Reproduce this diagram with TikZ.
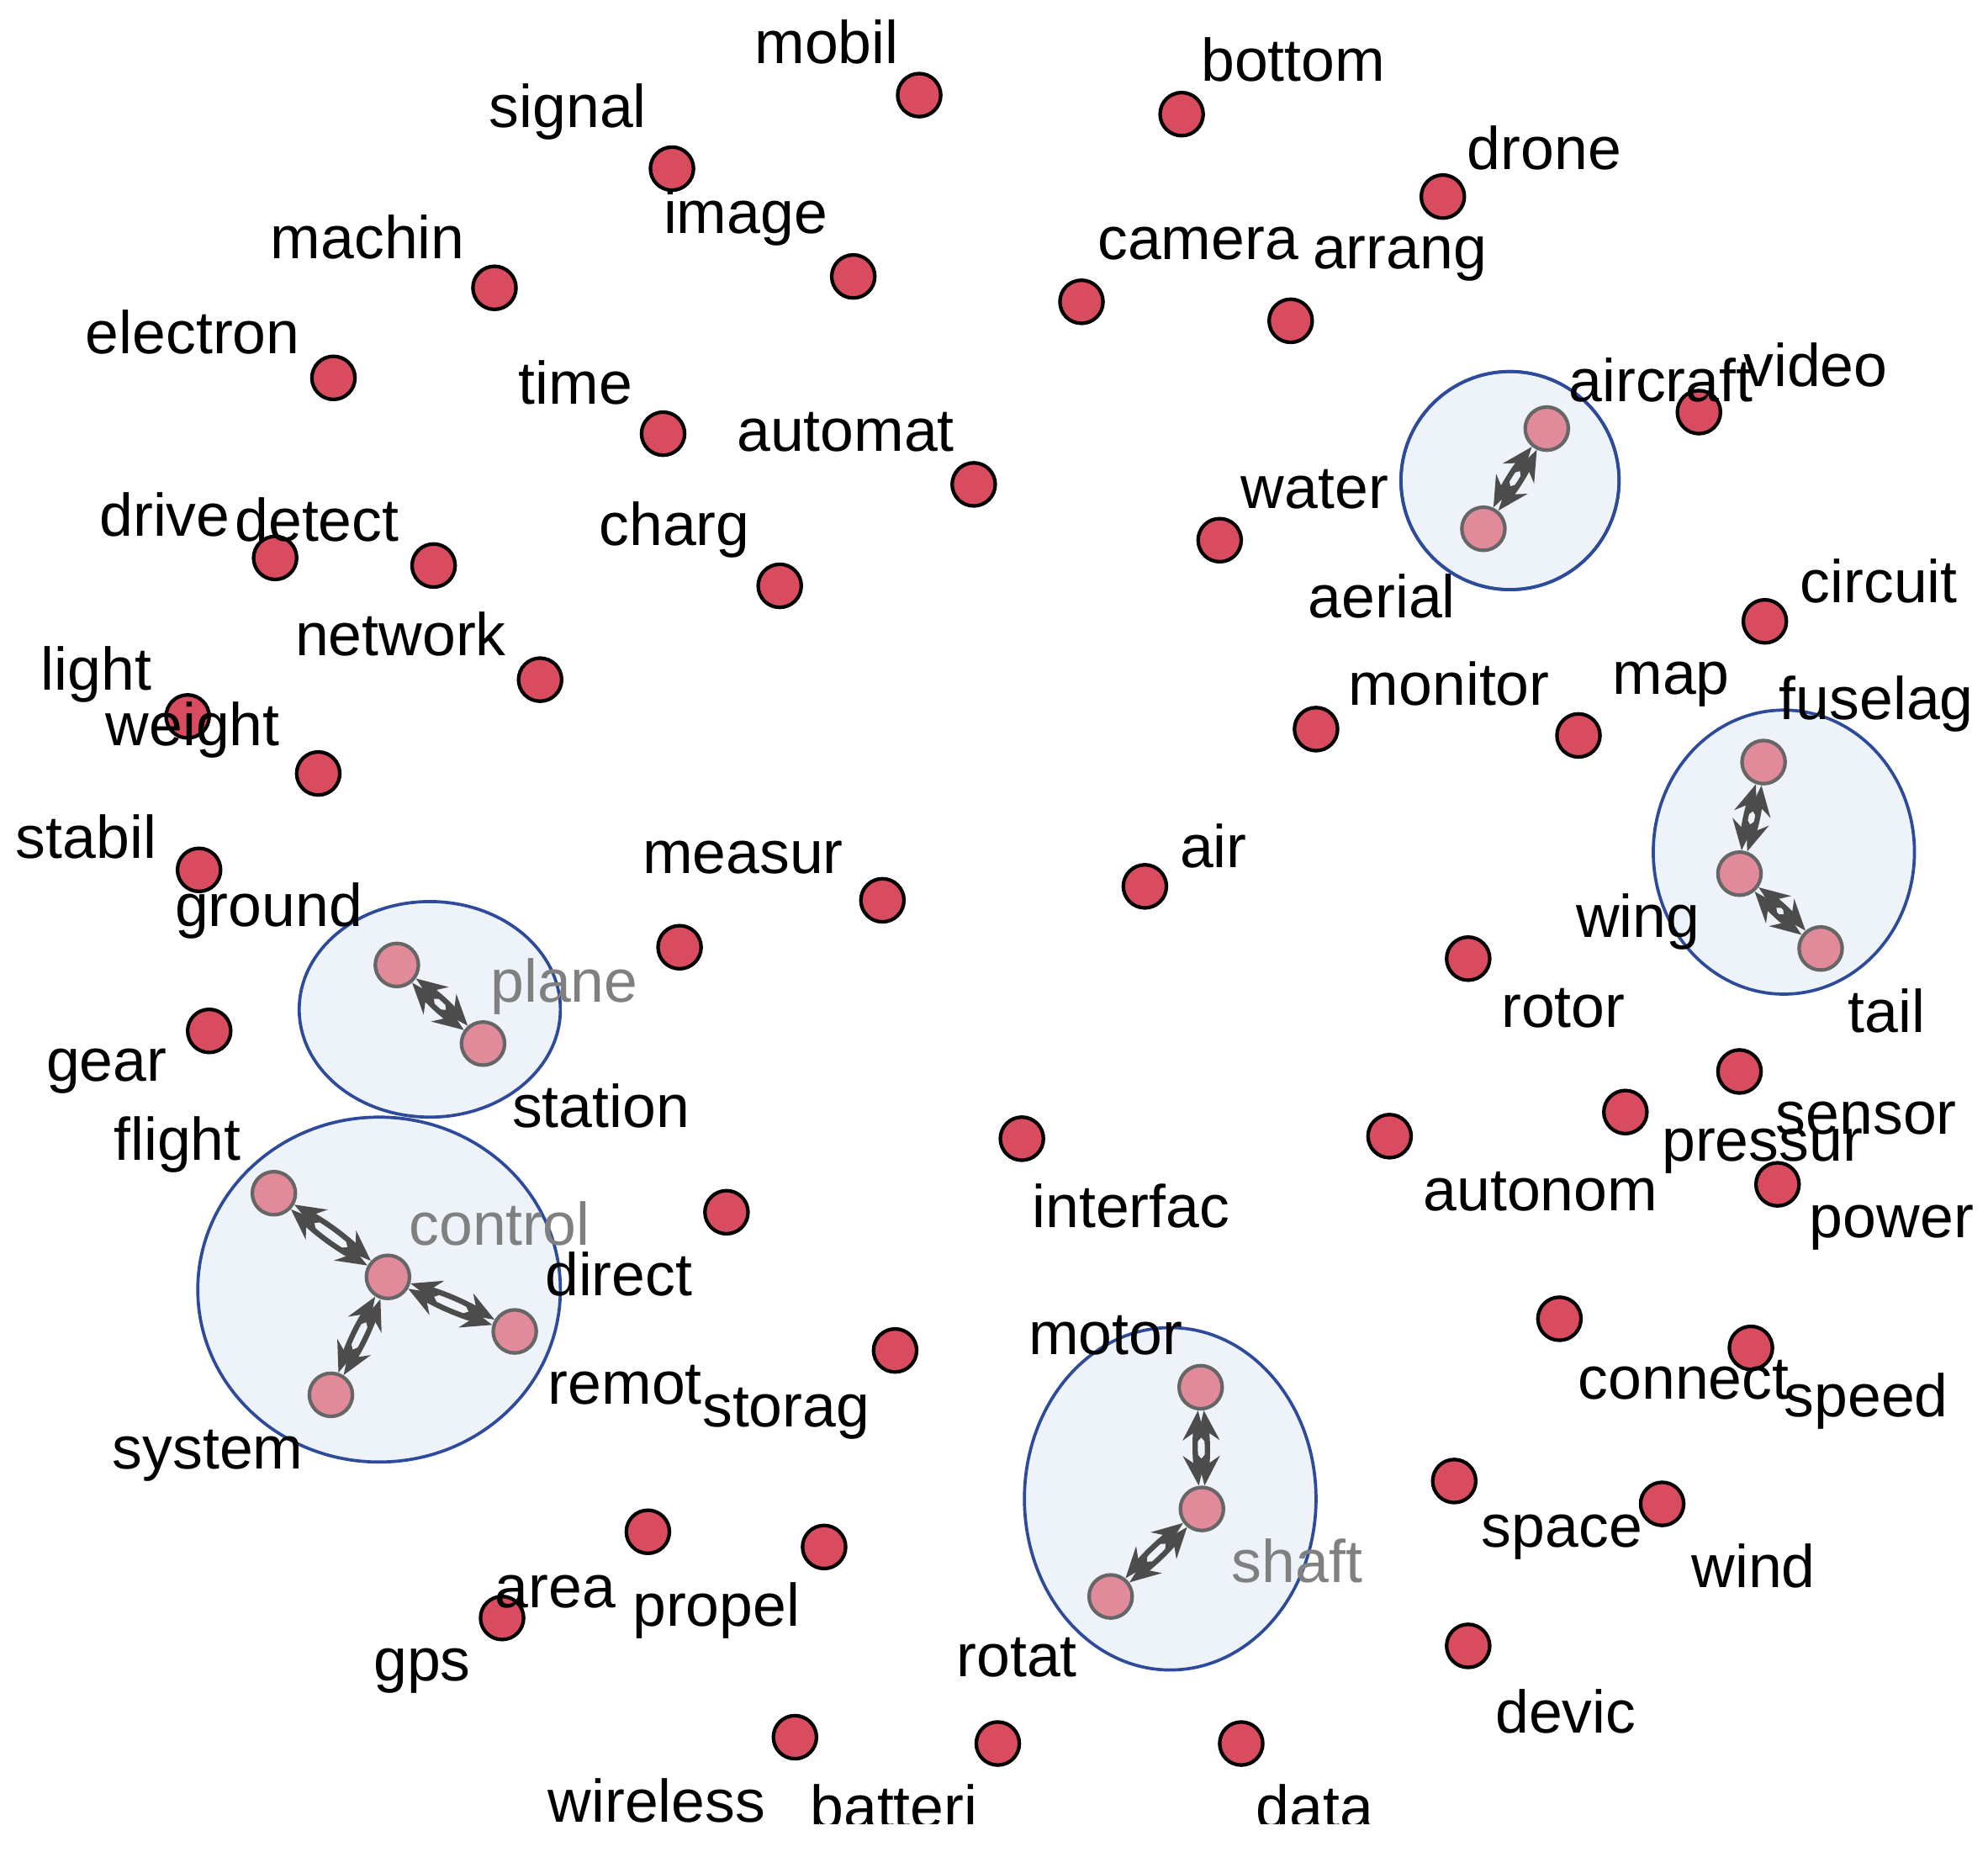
\documentclass[tikz,border=0pt]{standalone}
\usepackage{fontspec}
\setmainfont{Liberation Sans}
\usetikzlibrary{arrows.meta}
\definecolor{dotred}{HTML}{D94B5E}
\definecolor{dotpink}{HTML}{E08A9A}
\definecolor{clfill}{HTML}{EEF3F9}
\definecolor{cldraw}{HTML}{2E4A9A}
\begin{document}
\begin{tikzpicture}[x=0.01cm,y=-0.01cm,
  dot/.style={circle,draw=black,fill=dotred,minimum size=0.34cm,inner sep=0,line width=0.8pt},
  cdot/.style={circle,draw=gray!80!black,fill=dotpink,minimum size=0.34cm,inner sep=0,line width=0.8pt},
  lbl/.style={font=\fontsize{13.5pt}{14pt}\selectfont,inner sep=0},
  glbl/.style={lbl,text=gray},
  clu/.style={draw=cldraw,fill=clfill,line width=0.7pt},
  edge/.style={draw=gray!60!black,line width=1.2pt,{Stealth[length=7pt]}-{Stealth[length=7pt]}}]
\useasboundingbox (0,0) rectangle (1568,1460);
\fill[white] (0,0) rectangle (1568,1460);
\begin{scope}
\clip (0,0) rectangle (1568,1438);
% clusters
\fill[clu] (1191,379) ellipse [x radius=86,y radius=86]; \draw[clu,fill=none] (1191,379) ellipse [x radius=86,y radius=86];
\path[clu] (1407,672) ellipse [x radius=103,y radius=112];
\path[clu] (339,796) ellipse [x radius=103,y radius=85];
\path[clu] (299,1017) ellipse [x radius=143,y radius=136];
\path[clu] (923,1182) ellipse [x radius=115,y radius=135];
\node[cdot] (a1) at (1220,338) {}; \node[cdot] (a2) at (1170,417) {};
\node[cdot] (b1) at (1391,601) {}; \node[cdot] (b2) at (1372,689) {}; \node[cdot] (b3) at (1436,748) {};
\node[cdot] (c1) at (313,761) {}; \node[cdot] (c2) at (381,823) {};
\node[cdot] (e0) at (306,1007) {}; \node[cdot] (e1) at (216,941) {}; \node[cdot] (e2) at (406,1050) {}; \node[cdot] (e3) at (261,1100) {};
\node[cdot] (f1) at (947,1094) {}; \node[cdot] (f2) at (948,1190) {}; \node[cdot] (f3) at (876,1259) {};
\foreach \u/\v in {a1/a2,b1/b2,b2/b3,c1/c2,e0/e1,e0/e2,e0/e3,f1/f2,f2/f3}{
  \draw[edge] (\u) to[bend left=7] (\v);
  \draw[edge] (\u) to[bend right=7] (\v);
}
% dots
\foreach \n/\x/\y in {m1/725/75,m2/932/90,m3/530/133,m4/1138/155,m5/390/227,m6/673/218,m7/853/238,m8/1018/253,
 m9/263/298,m10/523/342,m11/768/382,m12/1340/325,m13/962/426,m14/217/440,m15/342/446,m16/615/462,m17/1392/490,
 m18/426/536,m19/148/565,m20/251/610,m21/1038/575,m22/1245/580,m23/157/686,m24/696/710,m25/903/699,m26/536/747,
 m27/1158/756,m28/165/813,m29/1372/845,m30/1282/877,m31/1096/896,m32/806/898,m33/573/956,m34/1402/934,
 m35/706/1065,m36/1230/1040,m37/1381/1063,m38/1147/1168,m39/1311/1186,m40/511/1208,m41/650/1220,m42/396/1276,
 m43/1158/1298,m44/627/1370,m45/787/1375,m46/979/1375}
 {\node[dot] (\n) at (\x,\y) {};}
% labels
\foreach \n/\x/\y/\t in {l1/652/33/mobil,l2/1020/47/bottom,l3/448/88/signal,l4/1218/117/drone,l5/290/187/machin,
 l6/588/172/image,l7/945/192/camera,l8/1104/204/arrang,l9/152/262/electron,l10/454/302/time,l11/667/341/automat,
 l12/1432/288/video,l13/1310/300/aircraft,l14/1037/386/water,l15/1090/470/aerial,l16/130/406/drive,l17/250/410/detect,
 l18/532/418/charg,l19/1482/458/circuit,l20/316/500/network,l21/76/532/light,l22/152/576/weight,l23/1143/539/monitor,
 l24/1318/540/map,l25/1480/555/fuselag,l26/68/660/stabil,l27/586/676/measur,l28/957/667/air,l29/212/718/ground,
 l30/1292/727/wing,l31/1233/795/rotor,l32/1488/797/tail,l33/84/845/gear,l34/474/872/station,l35/140/903/flight,
 l36/1472/882/sensor,l37/1390/908/pressur,l38/1215/940/autonom,l39/892/951/interfac,l40/1492/968/power,
 l41/488/1005/direct,l42/1328/1088/connect,l43/1472/1105/speed,l44/493/1092/remot,l45/620/1115/storag,
 l46/164/1148/system,l47/1232/1212/space,l48/1383/1235/wind,l49/438/1255/area,l50/565/1270/propel,l51/333/1318/gps,
 l52/802/1307/rotat,l53/1235/1350/devic,l54/518/1420/wireless,l55/705/1425/batteri,l56/1037/1425/data,l57/872/1053/motor}
 {\node[lbl] (\n) at (\x,\y) {\t};}
\node[glbl] (g1) at (445,778) {plane};
\node[glbl] (g2) at (394,965) {control};
\node[glbl] (g3) at (1023,1231) {shaft};
\end{scope}
\end{tikzpicture}
\end{document}
